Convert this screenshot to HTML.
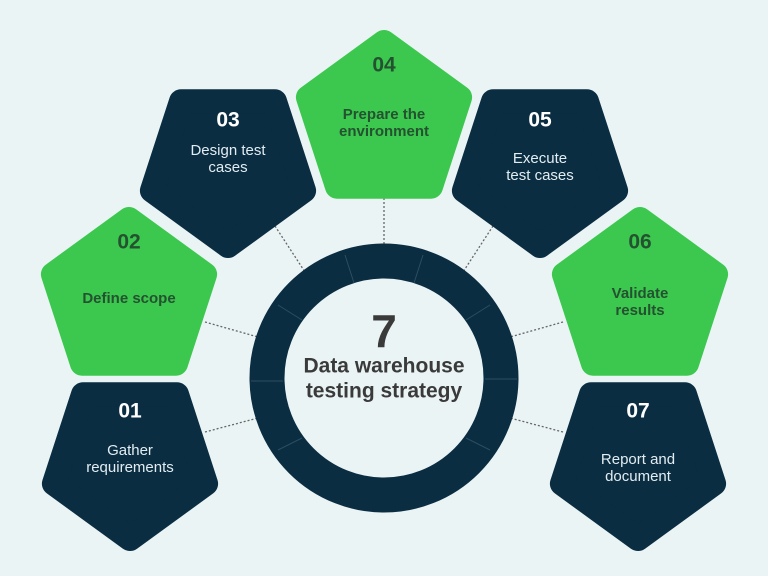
<!DOCTYPE html>
<html><head><meta charset="utf-8"><style>
html,body{margin:0;padding:0;background:#eaf4f5;}
svg{display:block;font-family:"Liberation Sans",sans-serif;}
.n{font-size:21px;font-weight:bold;text-anchor:middle;dominant-baseline:middle;}
.l{font-size:15px;text-anchor:middle;dominant-baseline:middle;}
.w{fill:#ffffff}.lw{fill:#e2edf1}
.g{fill:#24512f}
.gl{fill:#24512f;font-weight:bold;}
</style></head><body>
<svg width="768" height="576" viewBox="0 0 768 576">
<rect width="768" height="576" fill="#eaf4f5"/>
<defs>
<polygon id="up" points="0,-80 76.1,-24.7 47,64.7 -47,64.7 -76.1,-24.7" stroke-width="24" stroke-linejoin="round"/>
<polygon id="dn" points="0,80 76.1,24.7 47,-64.7 -47,-64.7 -76.1,24.7" stroke-width="24" stroke-linejoin="round"/>
</defs>
<g stroke="#666" stroke-width="1.3" stroke-dasharray="2,2" fill="none">
<line x1="205" y1="322" x2="258" y2="337"/>
<line x1="205" y1="432" x2="258" y2="418"/>
<line x1="275" y1="226" x2="305" y2="272"/>
<line x1="384" y1="198" x2="384" y2="245"/>
<line x1="493" y1="226" x2="463" y2="272"/>
<line x1="563" y1="322" x2="510" y2="337"/>
<line x1="563" y1="432" x2="510" y2="418"/>
</g>
<circle cx="384" cy="378" r="117" fill="none" stroke="#0b2d42" stroke-width="35"/>
<g stroke="#2c4d62" stroke-width="1">
<line x1="345" y1="255" x2="354" y2="283"/>
<line x1="423" y1="255" x2="414" y2="283"/>
<line x1="278" y1="305" x2="302" y2="320"/>
<line x1="490" y1="305" x2="466" y2="320"/>
<line x1="251" y1="381" x2="283" y2="381"/>
<line x1="517" y1="379" x2="485" y2="379"/>
<line x1="278" y1="450" x2="302" y2="438"/>
<line x1="490" y1="450" x2="466" y2="438"/>
</g>
<text x="384" y="335" class="n" style="font-size:46px;fill:#3a3a3a">7</text>
<text x="384" y="367" class="n" style="font-size:21px;fill:#3a3a3a">Data warehouse</text>
<text x="384" y="392" class="n" style="font-size:21px;fill:#3a3a3a">testing strategy</text>

<use href="#dn" x="130" y="459" fill="#0b2d42" stroke="#0b2d42"/>
<use href="#up" x="129" y="299" fill="#3cc84f" stroke="#3cc84f"/>
<use href="#dn" x="228" y="166" fill="#0b2d42" stroke="#0b2d42"/>
<use href="#up" x="384" y="122" fill="#3cc84f" stroke="#3cc84f"/>
<use href="#dn" x="540" y="166" fill="#0b2d42" stroke="#0b2d42"/>
<use href="#up" x="640" y="299" fill="#3cc84f" stroke="#3cc84f"/>
<use href="#dn" x="638" y="459" fill="#0b2d42" stroke="#0b2d42"/>

<text x="130" y="412" class="n w">01</text>
<text x="130" y="451" class="l lw">Gather</text>
<text x="130" y="468" class="l lw">requirements</text>

<text x="129" y="243" class="n g">02</text>
<text x="129" y="299" class="l gl">Define scope</text>

<text x="228" y="121" class="n w">03</text>
<text x="228" y="151" class="l lw">Design test</text>
<text x="228" y="168" class="l lw">cases</text>

<text x="384" y="66" class="n g">04</text>
<text x="384" y="115" class="l gl">Prepare the</text>
<text x="384" y="132" class="l gl">environment</text>

<text x="540" y="121" class="n w">05</text>
<text x="540" y="159" class="l lw">Execute</text>
<text x="540" y="176" class="l lw">test cases</text>

<text x="640" y="243" class="n g">06</text>
<text x="640" y="294" class="l gl">Validate</text>
<text x="640" y="311" class="l gl">results</text>

<text x="638" y="412" class="n w">07</text>
<text x="638" y="460" class="l lw">Report and</text>
<text x="638" y="477" class="l lw">document</text>
</svg>
</body></html>
